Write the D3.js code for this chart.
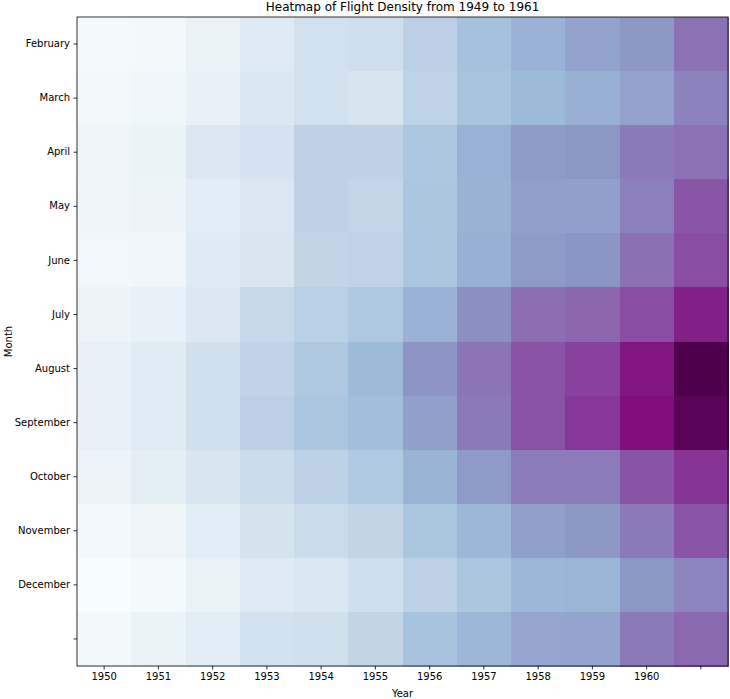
<!DOCTYPE html>
<html><head><meta charset="utf-8">
<script src="https://cdn.jsdelivr.net/npm/d3@7"></script>
<style>body{margin:0;background:#fff}svg{font-family:"DejaVu Sans",sans-serif}</style>
</head><body><svg id="c" width="730" height="699"></svg>
<script>
const years = [1949,1950,1951,1952,1953,1954,1955,1956,1957,1958,1959,1960];
const months = ["January","February","March","April","May","June","July","August","September","October","November","December"];
const xTickLabels = ["1950","1951","1952","1953","1954","1955","1956","1957","1958","1959","1960",""];
const yTickLabels = ["February","March","April","May","June","July","August","September","October","November","December",""];
// passengers[monthIndex][yearIndex]
const passengers = [
 [112,115,145,171,196,204,242,284,315,340,360,417],
 [118,126,150,180,196,188,233,277,301,318,342,391],
 [132,141,178,193,236,235,267,317,356,362,406,419],
 [129,135,163,181,235,227,269,313,348,348,396,461],
 [121,125,172,183,229,234,270,318,355,363,420,472],
 [135,149,178,218,243,264,315,374,422,435,472,535],
 [148,170,199,230,264,302,364,413,465,491,548,622],
 [148,170,199,242,272,293,347,405,467,505,559,606],
 [136,158,184,209,237,259,312,355,404,404,463,508],
 [119,133,162,191,211,229,274,306,347,359,407,461],
 [104,114,146,172,180,203,237,271,305,310,362,390],
 [118,140,166,194,201,229,278,306,336,337,405,432]
];
const bupu = ["#f7fcfd","#e0ecf4","#bfd3e6","#9ebcda","#8c96c6","#8c6bb1","#88419d","#810f7c","#4d004b"];

const svg = d3.select("#c");
const L=77, R=728, T=17, B=666;
const x = d3.scaleBand().domain(d3.range(years.length)).range([L,R]).padding(0);
const y = d3.scaleBand().domain(d3.range(months.length)).range([T,B]).padding(0);
const all = passengers.flat();
const norm = d3.scaleLinear().domain([d3.min(all), d3.max(all)]).range([0,1]).clamp(true);
const cmap = d3.scaleLinear().domain(d3.range(bupu.length).map(i=>i/(bupu.length-1))).range(bupu).interpolate(d3.interpolateRgb);
const cells = [];
passengers.forEach((row,i)=>row.forEach((v,j)=>cells.push({i,j,v})));
svg.append("g").selectAll("rect").data(cells).join("rect")
  .attr("x",d=>x(d.j)).attr("y",d=>y(d.i))
  .attr("width",x.bandwidth()+0.5).attr("height",y.bandwidth()+0.5)
  .attr("fill",d=>cmap(norm(d.v))).attr("shape-rendering","crispEdges");

const xa = svg.append("g").attr("transform",`translate(0,${B})`)
  .call(d3.axisBottom(x).tickSize(3.5).tickPadding(3.5).tickFormat((d,i)=>xTickLabels[i]));
const ya = svg.append("g").attr("transform",`translate(${L},0)`)
  .call(d3.axisLeft(y).tickSize(3.5).tickPadding(3.5).tickFormat((d,i)=>yTickLabels[i]));
[xa,ya].forEach(a=>{a.select(".domain").remove();a.selectAll("text").attr("font-size",10).attr("fill","#000").attr("font-family","DejaVu Sans");a.selectAll("line").attr("stroke","#000").attr("stroke-width",0.8);});
svg.append("rect").attr("x",L).attr("y",T).attr("width",R-L).attr("height",B-T)
  .attr("fill","none").attr("stroke","#000").attr("stroke-width",0.8);
svg.append("text").attr("x",(L+R)/2).attr("y",11).attr("text-anchor","middle").attr("font-size",12).text("Heatmap of Flight Density from 1949 to 1961");
svg.append("text").attr("x",(L+R)/2).attr("y",697).attr("text-anchor","middle").attr("font-size",10).text("Year");
svg.append("text").attr("transform",`translate(12,${(T+B)/2}) rotate(-90)`).attr("text-anchor","middle").attr("font-size",10).text("Month");
</script></body></html>
